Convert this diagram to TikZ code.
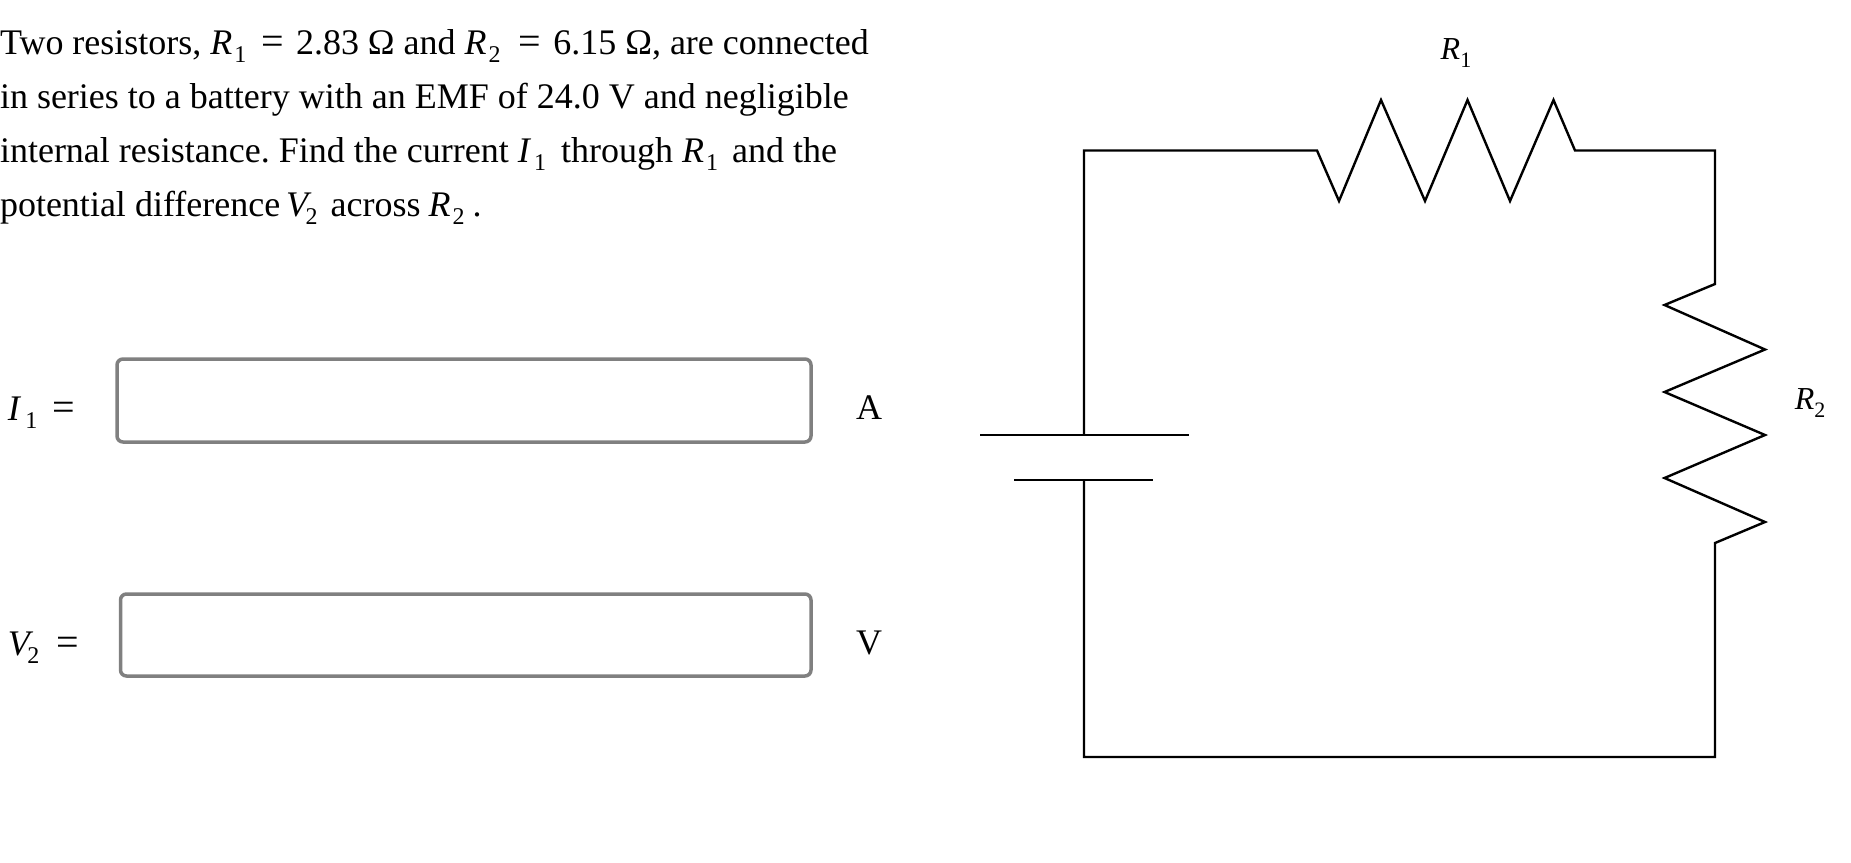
\documentclass[tikz,border=0pt]{standalone}
\usepackage{fontspec}
\setmainfont{Liberation Serif}
\frenchspacing
\newcommand{\sbs}[1]{\raisebox{-0.24em}{\fontsize{24}{24}\selectfont #1}}
\newcommand{\eqs}{{\fontsize{40}{40}\selectfont =}}
\begin{document}
\begin{tikzpicture}[x=1pt,y=-1pt,
  txt/.style={anchor=base west,inner sep=0pt,outer sep=0pt,font=\fontsize{36}{36}\selectfont},
  lab/.style={anchor=center,inner sep=0pt,font=\fontsize{32}{32}\selectfont},
  answerbox/.style={draw=black!50,line width=3.5pt,rounded corners=6pt,fill=white},
  wire/.style={draw=black,line width=2.4pt,line join=miter}]
\useasboundingbox (0,0) rectangle (1851,862);
\node[txt] (l1) at (0,54) {Two resistors, \textit{R}\hspace{2pt}\sbs{1}\hspace{15pt}\eqs\hspace{12pt}2.83 Ω and \textit{R}\hspace{2pt}\sbs{2}\hspace{18pt}\eqs\hspace{12pt}6.15 Ω, are connected};
\node[txt] (l2) at (0,108) {in series to a battery with an EMF of 24.0 V and negligible};
\node[txt] (l3) at (0,162) {internal resistance. Find the current \textit{I}\hspace{3pt}\sbs{1}\hspace{15pt}through \textit{R}\hspace{2pt}\sbs{1}\hspace{14pt}and the};
\node[txt] (l4) at (0,216) {potential difference\hspace{-3pt} \textit{V}\hspace{-6pt}\sbs{2}\hspace{13pt}across\hspace{-1pt} \textit{R}\hspace{2pt}\sbs{2}\hspace{8pt}.};
\node[txt] (i1) at (8,420) {\textit{I}\hspace{4pt}\sbs{1}\hspace{15pt}\eqs};
\node[txt] (v2) at (8,655) {\textit{V}\hspace{-6pt}\sbs{2}\hspace{17pt}\eqs};
\node[txt] (ua) at (856,419) {A};
\node[txt] (uv) at (856,654) {V};
\path[answerbox] (117,359) rectangle (811,442);
\path[answerbox] (120.5,594) rectangle (811,676);
\coordinate (tl) at (1084,150.5);
\coordinate (tr) at (1715,150.5);
\coordinate (bl) at (1084,757);
\coordinate (br) at (1715,757);
\coordinate (bat1) at (1084,435);
\coordinate (bat2) at (1084,480);
\coordinate (p1a) at (980,435);
\coordinate (p1b) at (1189,435);
\coordinate (p2a) at (1014,480);
\coordinate (p2b) at (1153,480);
\coordinate (r1a) at (1317,150.5);
\coordinate (r1b) at (1575,150.5);
\coordinate (r2a) at (1715,284);
\coordinate (r2b) at (1715,543);
\draw[wire] (bat1) -- (tl) -- (r1a) -- (1339,201) -- (1381,100) -- (1425,201) -- (1467.5,100) -- (1510,201) -- (1553.5,100) -- (r1b) -- (tr) -- (r2a) -- (1664.5,305) -- (1765,349.5) -- (1664.5,392) -- (1765,435) -- (1664.5,478) -- (1765,522) -- (r2b) -- (br) -- (bl) -- (bat2);
\draw[wire] (p1a) -- (p1b);
\draw[wire] (p2a) -- (p2b);
\node[lab] (lr1) at (1456,53) {\textit{R}\raisebox{-0.25em}{\fontsize{22}{22}\selectfont 1}};
\node[lab] (lr2) at (1810,403) {\textit{R}\raisebox{-0.25em}{\fontsize{22}{22}\selectfont 2}};
\end{tikzpicture}
\end{document}
